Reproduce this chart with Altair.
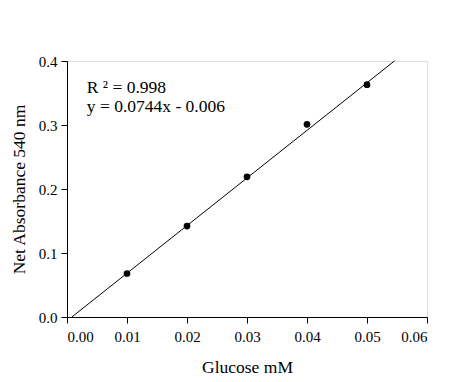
import altair as alt
import pandas as pd

glucose = [0.01, 0.02, 0.03, 0.04, 0.05]
absorb = [0.068, 0.142, 0.219, 0.301, 0.363]
slope = 7.44
intercept = -0.006
line_x = [0.0008, 0.0546]
notes = ["R \u00b2 = 0.998", "y = 0.0744x - 0.006"]
note_x = [0.0033, 0.0033]
note_y = [0.350, 0.320]

pts = pd.DataFrame({"x": glucose, "y": absorb})
ln = pd.DataFrame({"x": line_x})
txt = pd.DataFrame({"x": note_x, "y": note_y, "t": notes})

font = "Liberation Serif"
xs = alt.Scale(domain=[0, 0.06], nice=False)
ys = alt.Scale(domain=[0, 0.4], nice=False)

xax = alt.Axis(title="Glucose mM", values=[0, 0.01, 0.02, 0.03, 0.04, 0.05, 0.06], format=".2f",
               grid=False, domainColor="black", tickColor="black", tickSize=6,
               labelFont=font, labelFontSize=15, labelColor="black", labelPadding=6,
               titleFont=font, titleFontSize=17.5, titleFontWeight="normal", titleColor="black",
               titlePadding=14)
yax = alt.Axis(title="Net Absorbance 540 nm", values=[0, 0.1, 0.2, 0.3, 0.4], format=".1f",
               grid=False, domainColor="black", tickColor="black", tickSize=6,
               labelFont=font, labelFontSize=15, labelColor="black", labelPadding=4,
               titleFont=font, titleFontSize=17.5, titleFontWeight="normal", titleColor="black",
               titlePadding=10)

line = alt.Chart(ln).mark_line(color="black", strokeWidth=1).transform_calculate(
    y=f"{slope}*datum.x + ({intercept})"
).encode(x=alt.X("x:Q", scale=xs, axis=xax), y=alt.Y("y:Q", scale=ys, axis=yax))

points = alt.Chart(pts).mark_circle(color="black", size=45, opacity=1).encode(
    x=alt.X("x:Q", scale=xs), y=alt.Y("y:Q", scale=ys))

text = alt.Chart(txt).mark_text(font=font, fontSize=17.5, align="left", baseline="alphabetic", color="black").encode(
    x=alt.X("x:Q", scale=xs), y=alt.Y("y:Q", scale=ys), text="t:N")

chart = alt.layer(line, points, text).properties(
    width=360, height=256,
    autosize=alt.AutoSizeParams(type="none"),
    padding={"left": 59, "top": 53, "right": 30, "bottom": 60},
).configure_view(stroke="black", strokeWidth=1).configure(background="white")

chart.save("out.html", embed_options={"renderer": "svg", "actions": False})
